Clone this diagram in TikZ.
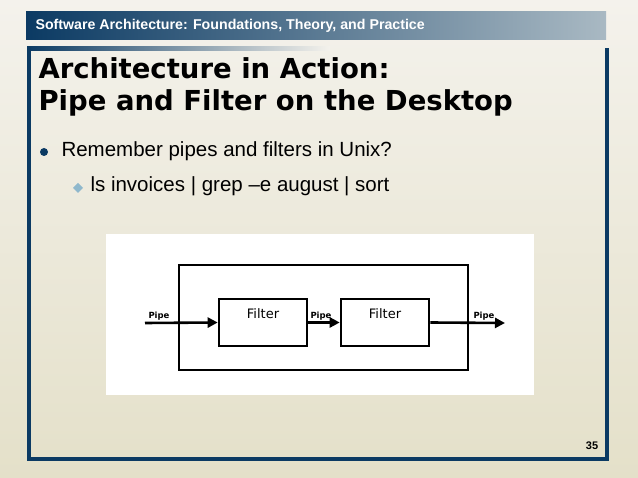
\documentclass[tikz,border=0pt]{standalone}
\usepackage{fontspec}
\setmainfont{Liberation Sans}
\newfontfamily\verd{DejaVu Sans}
\newfontfamily\comic{DejaVu Sans}
\usetikzlibrary{arrows.meta}
\definecolor{navy}{HTML}{0B3A63}
\definecolor{pale}{HTML}{A9B9C3}
\definecolor{bgtop}{HTML}{F4F2EC}
\definecolor{bgbot}{HTML}{E4E0C9}
\definecolor{diam}{HTML}{8FB8CC}
\tikzset{
  box/.style={draw, line width=2.6pt, fill=white},
  lbl/.style={font=\comic\bfseries\fontsize{8.5}{9}\selectfont, inner sep=0pt},
  flbl/.style={font=\comic\fontsize{13}{14}\selectfont},
  arr/.style={line width=2.6pt, -{Triangle[length=10pt,width=10pt]}},
  ln/.style={line width=2.6pt}
}
\begin{document}
\begin{tikzpicture}[x=1pt,y=-1pt]
\useasboundingbox (0,0) rectangle (638,478);
\shade[top color=bgtop, bottom color=bgbot] (0,0) rectangle (638,478);
% header bar
\shade[left color=navy, right color=pale] (26,12) rectangle (606,40);
\node[anchor=west, text=white, font=\bfseries\fontsize{14.2}{15}\selectfont] (hdr) at (32,26) {Software Architecture: Foundations, Theory, and Practice};
% frame
\shade[left color=navy, right color=bgtop] (27,47) rectangle (330,51);
\fill[navy] (27,47) rectangle (31,461);
\fill[navy] (27,457) rectangle (609,461);
\fill[navy] (605,48) rectangle (609,461);
% title
\node[anchor=west, font=\verd\bfseries\fontsize{27.5}{32}\selectfont, align=left] (title) at (35,87) {Architecture in Action:\\Pipe and Filter on the Desktop};
\fill[navy] (44,152) circle (4);
\node[anchor=west, font=\fontsize{20.5}{22}\selectfont] (b1) at (58,151) {Remember pipes and filters in Unix?};
\fill[diam] (78,183) -- (83,188) -- (78,193) -- (73,188) -- cycle;
\node[anchor=west, font=\fontsize{20.5}{22}\selectfont] (b2) at (87,186) {ls invoices | grep –e august | sort};
% diagram
\fill[white] (106,234) rectangle (534,395);
\draw[ln] (179,265) rectangle (468,370);
\node[box, minimum width=88pt, minimum height=47pt] (f1) at (263,322.5) {};
\node[box, minimum width=88pt, minimum height=47pt] (f2) at (385,322.5) {};
\node[flbl] at (263,314) {Filter};
\node[flbl] at (385,314) {Filter};
\coordinate (in) at (145,323);
\coordinate (out) at (505,323);
\draw[arr] (in) -- (f1.west);
\draw[arr] (f1.east) -- (f2.west);
\draw[arr] (f2.east) -- (out);
\node[lbl] (p1) at (159,316) {Pipe};
\node[lbl] (p2) at (321,316) {Pipe};
\node[lbl] (p3) at (484,316) {Pipe};
\node[font=\bfseries\fontsize{11}{12}\selectfont] (num) at (592,446) {35};
\end{tikzpicture}
\end{document}
